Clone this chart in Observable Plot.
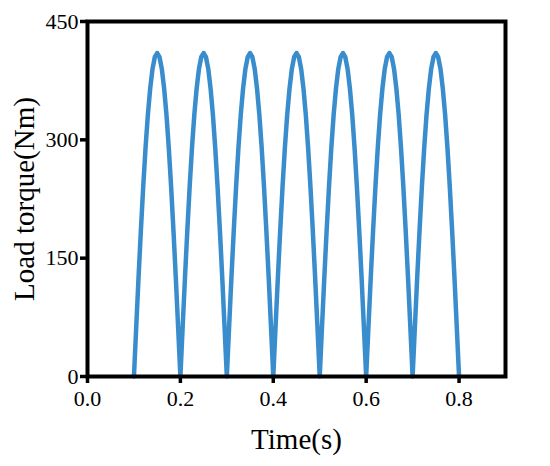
<!DOCTYPE html>
<html>
<head>
<meta charset="utf-8">
<script src="https://cdn.jsdelivr.net/npm/d3@7"></script>
<script src="https://cdn.jsdelivr.net/npm/@observablehq/plot@0.6"></script>
<style>
  html, body { margin: 0; padding: 0; background: #fff; }
  #chart svg { display: block; }
</style>
</head>
<body>
<div id="chart"></div>
<script>
// Time samples (s)
const time = [
  0.100, 0.105, 0.110, 0.115, 0.120, 0.125, 0.130, 0.135, 0.140, 0.145, 0.150, 0.155, 0.160, 0.165, 0.170, 0.175, 0.180, 0.185, 0.190, 0.195,
  0.200, 0.205, 0.210, 0.215, 0.220, 0.225, 0.230, 0.235, 0.240, 0.245, 0.250, 0.255, 0.260, 0.265, 0.270, 0.275, 0.280, 0.285, 0.290, 0.295,
  0.300, 0.305, 0.310, 0.315, 0.320, 0.325, 0.330, 0.335, 0.340, 0.345, 0.350, 0.355, 0.360, 0.365, 0.370, 0.375, 0.380, 0.385, 0.390, 0.395,
  0.400, 0.405, 0.410, 0.415, 0.420, 0.425, 0.430, 0.435, 0.440, 0.445, 0.450, 0.455, 0.460, 0.465, 0.470, 0.475, 0.480, 0.485, 0.490, 0.495,
  0.500, 0.505, 0.510, 0.515, 0.520, 0.525, 0.530, 0.535, 0.540, 0.545, 0.550, 0.555, 0.560, 0.565, 0.570, 0.575, 0.580, 0.585, 0.590, 0.595,
  0.600, 0.605, 0.610, 0.615, 0.620, 0.625, 0.630, 0.635, 0.640, 0.645, 0.650, 0.655, 0.660, 0.665, 0.670, 0.675, 0.680, 0.685, 0.690, 0.695,
  0.700, 0.705, 0.710, 0.715, 0.720, 0.725, 0.730, 0.735, 0.740, 0.745, 0.750, 0.755, 0.760, 0.765, 0.770, 0.775, 0.780, 0.785, 0.790, 0.795,
  0.800
];
// Load torque (Nm)
const torque = [
  0, 64, 127, 186, 241, 290, 332, 365, 390, 405, 410, 405, 390, 365, 332, 290, 241, 186, 127, 64,
  0, 64, 127, 186, 241, 290, 332, 365, 390, 405, 410, 405, 390, 365, 332, 290, 241, 186, 127, 64,
  0, 64, 127, 186, 241, 290, 332, 365, 390, 405, 410, 405, 390, 365, 332, 290, 241, 186, 127, 64,
  0, 64, 127, 186, 241, 290, 332, 365, 390, 405, 410, 405, 390, 365, 332, 290, 241, 186, 127, 64,
  0, 64, 127, 186, 241, 290, 332, 365, 390, 405, 410, 405, 390, 365, 332, 290, 241, 186, 127, 64,
  0, 64, 127, 186, 241, 290, 332, 365, 390, 405, 410, 405, 390, 365, 332, 290, 241, 186, 127, 64,
  0, 64, 127, 186, 241, 290, 332, 365, 390, 405, 410, 405, 390, 365, 332, 290, 241, 186, 127, 64,
  0
];
const xTicks = [0, 0.2, 0.4, 0.6, 0.8];
const yTicks = [0, 150, 300, 450];
const xTitle = "Time(s)";
const yTitle = "Load torque(Nm)";

const data = time.map((t, i) => ({t, v: torque[i]}));
const serif = "'Liberation Serif', 'Times New Roman', serif";

const chart = Plot.plot({
  width: 550,
  height: 466,
  marginLeft: 87,
  marginRight: 45,
  marginTop: 21,
  marginBottom: 90,
  style: {fontFamily: serif, fontSize: "22px", color: "#000", background: "#fff"},
  x: {domain: [0, 0.9]},
  y: {domain: [0, 450]},
  marks: [
    Plot.line(data, {x: "t", y: "v", stroke: "#3a8dcc", strokeWidth: 4.5, strokeLinejoin: "round"}),
    Plot.axisX({ticks: xTicks, tickFormat: d3.format(".1f"), tickSize: 7, tickPadding: 6.5, strokeWidth: 3.5, fontSize: 22, fontFamily: serif, fill: "#000", label: null}),
    Plot.axisY({ticks: yTicks, tickSize: 7, tickPadding: 2, strokeWidth: 3.5, fontSize: 22, fontFamily: serif, fill: "#000", label: null}),
    Plot.frame({stroke: "#000", strokeWidth: 4}),
    Plot.text([xTitle], {frameAnchor: "bottom", dy: 63, lineAnchor: "middle", textAnchor: "middle", fontSize: 29, fontFamily: serif, text: d => d, fill: "#000"}),
    Plot.text([yTitle], {frameAnchor: "left", dx: -63, rotate: -90, lineAnchor: "middle", textAnchor: "middle", fontSize: 29, fontFamily: serif, text: d => d, fill: "#000"})
  ]
});
document.getElementById("chart").appendChild(chart);
</script>
</body>
</html>
